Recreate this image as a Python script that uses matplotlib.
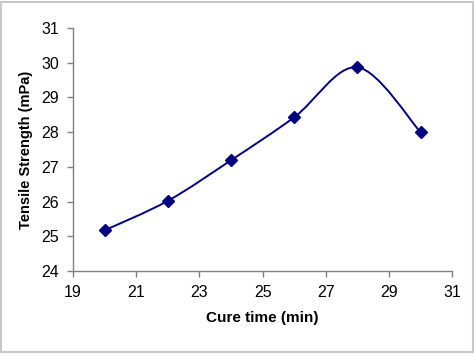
import numpy as np
import matplotlib
matplotlib.use("Agg")
import matplotlib.pyplot as plt
from matplotlib.path import Path
from matplotlib.patches import PathPatch, Rectangle

plt.rcParams['font.family'] = ['Liberation Sans', 'DejaVu Sans']

cure_time = [20, 22, 24, 26, 28, 30]
tensile = [25.17, 26.02, 27.19, 28.43, 29.87, 28.0]
x_ticks = [19, 21, 23, 25, 27, 29, 31]
y_ticks = [24, 25, 26, 27, 28, 29, 30, 31]

navy = "#000080"
axis_gray = "#808080"

fig = plt.figure(figsize=(4.74, 3.56), dpi=100)
ax = fig.add_axes([0.154, 0.239, 0.80, 0.682])

# smoothed line like Excel: Catmull-Rom style Bezier segments through the points
pts = np.column_stack([cure_time, tensile])
verts = [pts[0]]
codes = [Path.MOVETO]
for i in range(len(pts) - 1):
    p0 = pts[max(i - 1, 0)]
    p1 = pts[i]
    p2 = pts[i + 1]
    p3 = pts[min(i + 2, len(pts) - 1)]
    c1 = p1 + (p2 - p0) / 6.0
    c2 = p2 - (p3 - p1) / 6.0
    verts += [c1, c2, p2]
    codes += [Path.CURVE4] * 3
ax.add_patch(PathPatch(Path(verts, codes), facecolor="none", edgecolor=navy, lw=1.4))
ax.plot(cure_time, tensile, linestyle="none", marker="D", ms=6, color=navy)

ax.set_xlim(19, 31)
ax.set_ylim(24, 31)
ax.set_xticks(x_ticks)
ax.set_yticks(y_ticks)
for side in ["top", "right"]:
    ax.spines[side].set_visible(False)
for side in ["left", "bottom"]:
    ax.spines[side].set_color(axis_gray)
    ax.spines[side].set_linewidth(1.0)
ax.tick_params(direction="out", length=4, width=1.0, color=axis_gray,
               labelsize=11.5, pad=6)

ax.set_xlabel("Cure time (min)", fontsize=11, fontweight="bold", labelpad=8)
ax.set_ylabel("Tensile Strength (mPa)", fontsize=10.5, fontweight="bold", labelpad=6)

# light gray frame around the picture
fig.patches.append(Rectangle((0.002, 0.01), 0.996, 0.985, transform=fig.transFigure,
                             fill=False, edgecolor="#c8c8c8", lw=1.5))

fig.savefig("out.png", dpi=100)
